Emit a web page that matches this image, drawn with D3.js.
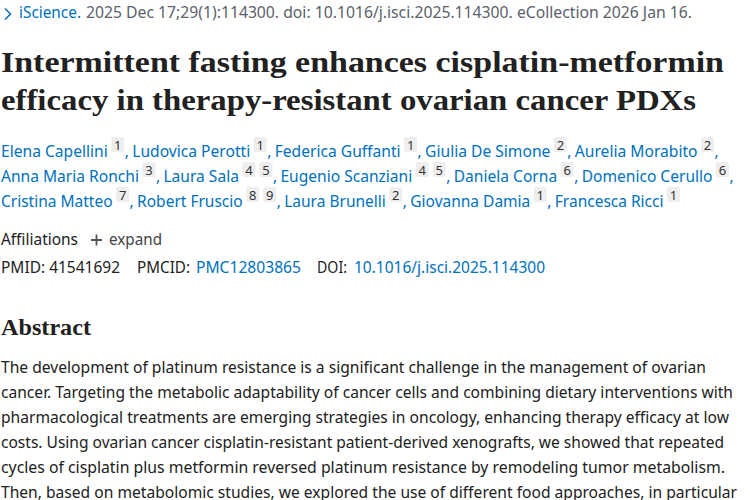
<!DOCTYPE html>
<html>
<head>
<meta charset="utf-8">
<script src="https://cdn.jsdelivr.net/npm/d3@7"></script>
<style>
  html, body { margin: 0; background: #fff; }
  svg { display: block; }
  text { font-family: "Noto Sans", sans-serif; font-size: 15.5px; fill: #212121; }
  .link { fill: #0071bc; }
  .grey { fill: #5b616b; }
  .serif { font-family: "Liberation Serif", serif; font-weight: 700; }
</style>
</head>
<body>
<svg id="app" width="750" height="500"></svg>
<script>
// page text
const journal = "iScience.";
const citation = "2025 Dec 17;29(1):114300. doi: 10.1016/j.isci.2025.114300. eCollection 2026 Jan 16.";
const titleLines = [
  "Intermittent fasting enhances cisplatin-metformin",
  "efficacy in therapy-resistant ovarian cancer PDXs"
];
const authorNames = [
  "Elena Capellini", "Ludovica Perotti", "Federica Guffanti", "Giulia De Simone", "Aurelia Morabito",
  "Anna Maria Ronchi", "Laura Sala", "Eugenio Scanziani", "Daniela Corna", "Domenico Cerullo",
  "Cristina Matteo", "Robert Fruscio", "Laura Brunelli", "Giovanna Damia", "Francesca Ricci"
];
const authorAffiliations = [
  ["1"], ["1"], ["1"], ["2"], ["2"],
  ["3"], ["4", "5"], ["4", "5"], ["6"], ["6"],
  ["7"], ["8", "9"], ["2"], ["1"], ["1"]
];
const authorRowSizes = [5, 5, 5];
const abstractLines = [
  "The development of platinum resistance is a significant challenge in the management of ovarian",
  "cancer. Targeting the metabolic adaptability of cancer cells and combining dietary interventions with",
  "pharmacological treatments are emerging strategies in oncology, enhancing therapy efficacy at low",
  "costs. Using ovarian cancer cisplatin-resistant patient-derived xenografts, we showed that repeated",
  "cycles of cisplatin plus metformin reversed platinum resistance by remodeling tumor metabolism.",
  "Then, based on metabolomic studies, we explored the use of different food approaches, in particular"
];

// right edges of the lines, used to fit the substitute fonts
const titleEnds = [724, 696];
const authorEnds = [718, 733, 680];
const abstractEnds = [706, 733, 729, 724, 725, 737];

const svg = d3.select("#app");

const titleY = d3.scaleLinear().domain([0, 1]).range([72, 110]);
const authorY = d3.scaleLinear().domain([0, 2]).range([157, 207]);
const abstractY = d3.scaleLinear().domain([0, 5]).range([373, 498]);

// squeezes a single line so it spans x0..x1
function put(x0, x1, y, str, cls) {
  return svg.append("text")
    .attr("class", cls || null)
    .attr("x", x0)
    .attr("y", y)
    .attr("textLength", x1 - x0)
    .attr("lengthAdjust", "spacingAndGlyphs")
    .text(str);
}

// citation line
svg.append("path")
  .attr("d", "M5,8.5L10.5,14L5,19.5")
  .attr("fill", "none")
  .attr("stroke", "#0071bc")
  .attr("stroke-width", 1.5);
put(19, 81, 18, journal, "link");
put(86, 692, 18, citation, "grey");

// title
titleLines.forEach((d, i) => {
  put(1, titleEnds[i], titleY(i), d, "serif").style("font-size", "30px");
});

// authors: lay out one row at natural width, then scale it to the row's end
let start = 0;
authorRowSizes.forEach((size, row) => {
  const y = authorY(row);
  const names = authorNames.slice(start, start + size);
  const affs = authorAffiliations.slice(start, start + size);
  const last = start + size === authorNames.length;
  start += size;

  const measured = names.map(n => {
    const t = svg.append("text").text(n);
    const w = t.node().getComputedTextLength();
    t.remove();
    return w;
  });
  let fixed = 0;
  affs.forEach((a, i) => {
    fixed += 3.5 + a.length * 13 + (a.length - 1) * 4;
    if (i < size - 1) fixed += 8;
  });
  if (!last) fixed += 4;
  const k = (authorEnds[row] - 1 - fixed) / d3.sum(measured);

  let x = 1;
  names.forEach((n, i) => {
    const w = measured[i] * k;
    put(x, x + w, y, n, "link");
    x += w + 3.5;
    affs[i].forEach((a, j) => {
      svg.append("rect")
        .attr("x", x).attr("y", y - 20)
        .attr("width", 13).attr("height", 15)
        .attr("rx", 2)
        .attr("fill", "#eeeeee");
      svg.append("text")
        .attr("x", x + 6.5).attr("y", y - 7.5)
        .attr("text-anchor", "middle")
        .style("font-size", "13px")
        .style("fill", "#333")
        .text(a);
      x += 13 + (j < affs[i].length - 1 ? 4 : 0);
    });
    if (i < size - 1 || !last) {
      svg.append("text").attr("x", x + 0.5).attr("y", y).attr("class", "link").text(",");
    }
    x += 8;
  });
});

// affiliations and ids
put(1, 78, 245, "Affiliations");
svg.append("path")
  .attr("d", "M91,240H102M96.5,234.5V245.5")
  .attr("fill", "none")
  .attr("stroke", "#555")
  .attr("stroke-width", 1.8);
put(109, 162, 245, "expand").style("fill", "#444");

put(1, 120, 273, "PMID: 41541692");
put(137, 190, 273, "PMCID:");
put(196, 301, 273, "PMC12803865", "link");
put(317, 347, 273, "DOI:");
put(354, 545, 273, "10.1016/j.isci.2025.114300", "link");

// abstract
put(1, 91, 335, "Abstract", "serif").style("font-size", "24px");
abstractLines.forEach((d, i) => {
  put(1, abstractEnds[i], abstractY(i), d);
});
</script>
</body>
</html>
